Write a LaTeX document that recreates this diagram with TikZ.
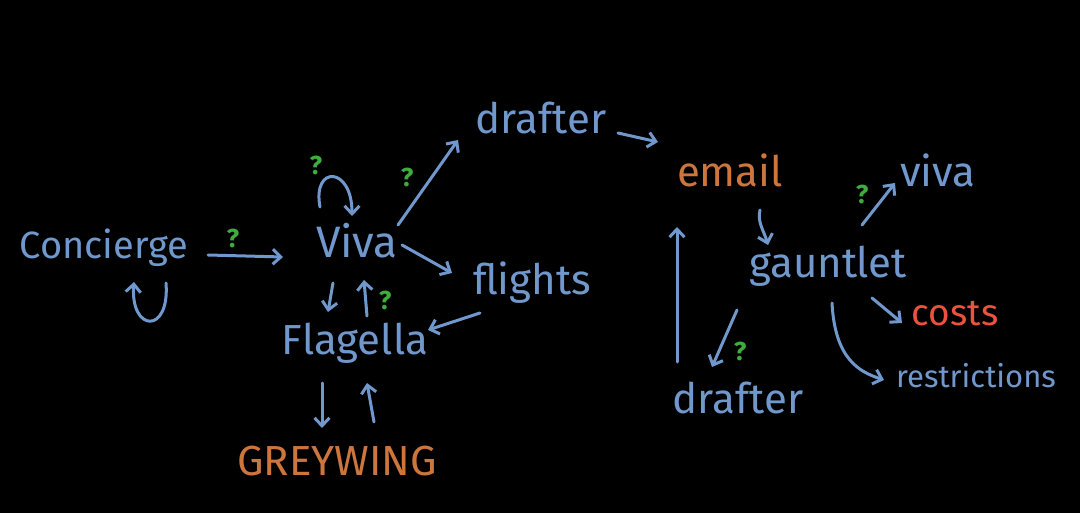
\documentclass[tikz,border=0pt]{standalone}
\usepackage{fontspec}
\setmainfont{Fira Sans}
\usetikzlibrary{arrows.meta}
\definecolor{hblue}{RGB}{112,152,204}
\definecolor{horange}{RGB}{204,118,62}
\definecolor{hred}{RGB}{236,82,62}
\definecolor{hgreen}{RGB}{62,172,62}
\begin{document}
\begin{tikzpicture}[x=1pt,y=-1pt,
  lbl/.style={font=\fontsize{42}{46}\selectfont, text=hblue, inner sep=1pt},
  q/.style={font=\fontsize{26}{28}\selectfont\bfseries, text=hgreen, inner sep=0pt},
  arr/.style={draw=hblue, line width=3pt, line cap=round, line join=round,
    -{Straight Barb[length=8pt,width=15pt,line width=3pt]}}]
\fill[black] (0,0) rectangle (1080,513);
\useasboundingbox (0,0) rectangle (1080,513);

% nodes
\node[lbl, font=\fontsize{38}{42}\selectfont] (conc) at (104,248) {Concierge};
\node[lbl, font=\fontsize{44}{48}\selectfont] (viva) at (357,241) {Viva};
\node[lbl] (draftA) at (541,118) {drafter};
\node[lbl] (flights) at (532,283) {flights};
\node[lbl] (flag) at (355,343) {Flagella};
\node[lbl, text=horange] (grey) at (337,461) {GREYWING};
\node[lbl, text=horange] (email) at (730,170) {email};
\node[lbl] (gaunt) at (828,266) {gauntlet};
\node[lbl] (vivaB) at (938,170) {viva};
\node[lbl, text=hred, font=\fontsize{37}{40}\selectfont] (costs) at (955,314) {costs};
\node[lbl, font=\fontsize{31}{34}\selectfont] (restr) at (976,376) {restrictions};
\node[lbl] (draftB) at (738,398) {drafter};

% question marks
\node[q] (q1) at (233,238) {?};
\node[q] (q2) at (316,165) {?};
\node[q] (q3) at (407,177) {?};
\node[q] (q4) at (385,300) {?};
\node[q] (q5) at (862,194) {?};
\node[q] (q6) at (740,351) {?};

% connectors
\draw[arr] ([shift={(104,7)}]conc.center) -- ([shift={(-74,16)}]viva.center);
\draw[arr] ([shift={(62,35)}]conc.center) .. controls +(4,52) and +(-4,50) .. ([shift={(30,34)}]conc.center);
\draw[arr] ([shift={(-37,-34)}]viva.center) .. controls +(-8,-42) and +(0,-50) .. ([shift={(-5,-25)}]viva.center);
\draw[arr] ([shift={(41,-16)}]viva.center) -- ([shift={(-83,22)}]draftA.center);
\draw[arr] ([shift={(45,4)}]viva.center) -- ([shift={(-80,-10)}]flights.center);
\draw[arr] ([shift={(-24,42)}]viva.center) -- ([shift={(-27,-31)}]flag.center);
\draw[arr] ([shift={(12,-27)}]flag.center) -- ([shift={(7,39)}]viva.center);
\draw[arr] ([shift={(-52,30)}]flights.center) -- ([shift={(73,-13)}]flag.center);
\draw[arr] ([shift={(-33,40)}]flag.center) -- ([shift={(-15,-33)}]grey.center);
\draw[arr] ([shift={(37,-39)}]grey.center) -- ([shift={(12,40)}]flag.center);
\draw[arr] ([shift={(77,15)}]draftA.center) -- ([shift={(-72,-28)}]email.center);
\draw[arr] ([shift={(30,40)}]email.center) .. controls +(-3,12) and +(-4,-14) .. ([shift={(-60,-21)}]gaunt.center);
\draw[arr] ([shift={(-61,-36)}]draftB.center) -- ([shift={(-53,57)}]email.center);
\draw[arr] ([shift={(-91,44)}]gaunt.center) -- ([shift={(-26,-31)}]draftB.center);
\draw[arr] ([shift={(34,-41)}]gaunt.center) -- ([shift={(-43,13)}]vivaB.center);
\draw[arr] ([shift={(44,32)}]gaunt.center) -- ([shift={(-53,9)}]costs.center);
\draw[arr] ([shift={(4,37)}]gaunt.center) .. controls +(3,57) and +(-24,-8) .. ([shift={(-92,4)}]restr.center);
\end{tikzpicture}
\end{document}
